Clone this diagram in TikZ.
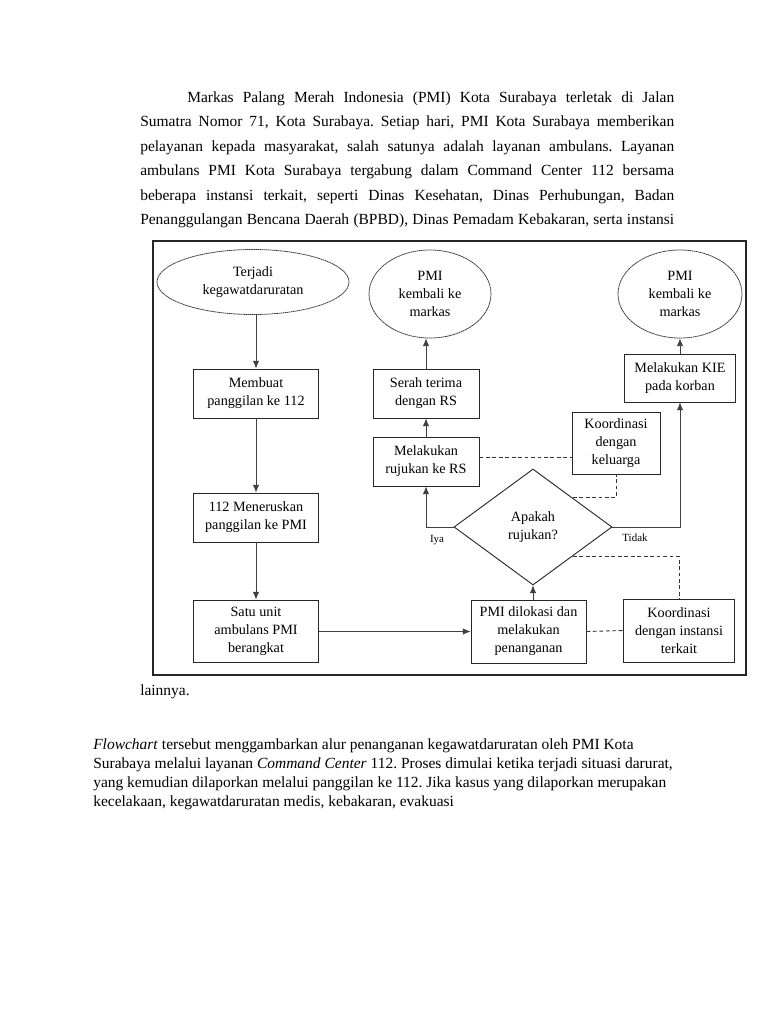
\documentclass[tikz,border=0pt]{standalone}
\usepackage{fontspec}
\setmainfont{Liberation Serif}
\usetikzlibrary{shapes.geometric,arrows.meta}
\def\U{0.775pt}
\frenchspacing
\tikzset{
  dg/.style={font=\fontsize{11}{14}\selectfont, align=center, inner sep=1pt},
  boxn/.style={dg, draw=black!85, line width=0.7pt, rectangle},
  elln/.style={dg, draw=black!80, line width=0.6pt, ellipse, dash pattern=on 1.2pt off 0.4pt},
  dia/.style={dg, draw=black!85, line width=0.7pt, diamond},
  arr/.style={draw=black!75, line width=0.6pt, -{Latex[length=6pt,width=5pt]}},
  dsh/.style={draw=black!80, line width=0.7pt, dash pattern=on 3pt off 2pt},
  body/.style={anchor=base west, inner sep=0pt, font=\fontsize{12}{14}\selectfont\frenchspacing},
  lbl/.style={font=\fontsize{8.5}{10}\selectfont, inner sep=0pt}
}
\begin{document}
\begin{tikzpicture}[x=0.775pt,y=-0.775pt]
\useasboundingbox[fill=white] (0,0) rectangle (768,1024);

% top paragraph
\node[body] (t1) at (187,102) {\hbox to 377.4pt{Markas Palang Merah Indonesia (PMI) Kota Surabaya terletak di Jalan}};
\node[body] (t2) at (140,126.5) {\hbox to 413.85pt{Sumatra Nomor 71, Kota Surabaya. Setiap hari, PMI Kota Surabaya memberikan}};
\node[body] (t3) at (140,151) {\hbox to 413.85pt{pelayanan kepada masyarakat, salah satunya adalah layanan ambulans. Layanan}};
\node[body] (t4) at (140,175.5) {\hbox to 413.85pt{ambulans PMI Kota Surabaya tergabung dalam Command Center 112 bersama}};
\node[body] (t5) at (140,200) {\hbox to 413.85pt{beberapa instansi terkait, seperti Dinas Kesehatan, Dinas Perhubungan, Badan}};
\node[body] (t6) at (140,224.5) {\hbox to 413.85pt{Penanggulangan Bencana Daerah (BPBD), Dinas Pemadam Kebakaran, serta instansi}};
\node[body] (t7) at (140,695) {lainnya.};

% bottom paragraph
\node[body] (b1t) at (93,749) {\textit{Flowchart} tersebut menggambarkan alur penanganan kegawatdaruratan oleh PMI Kota};
\node[body] (b2t) at (93,768.2) {Surabaya melalui layanan \textit{Command Center} 112. Proses dimulai ketika terjadi situasi darurat,};
\node[body] (b3t) at (93,787.4) {yang kemudian dilaporkan melalui panggilan ke 112. Jika kasus yang dilaporkan merupakan};
\node[body] (b4t) at (93,806.6) {kecelakaan, kegawatdaruratan medis, kebakaran, evakuasi};

% frame
\draw[draw=black!85, line width=0.9pt] (153,241) rectangle (746,675);

% nodes
\node[elln, minimum width=192*\U, minimum height=65*\U] (e1) at (253,282) {Terjadi\\kegawatdaruratan};
\node[elln, minimum width=122*\U, minimum height=88*\U] (e2) at (430,294) {PMI\\kembali ke\\markas};
\node[elln, minimum width=124*\U, minimum height=88*\U] (e3) at (680,294) {PMI\\kembali ke\\markas};

\node[boxn, minimum width=125*\U, minimum height=49*\U] (n1) at (256,393.5) {Membuat\\panggilan ke 112};
\node[boxn, minimum width=125*\U, minimum height=49*\U] (n2) at (256,517.5) {112 Meneruskan\\panggilan ke PMI};
\node[boxn, minimum width=125*\U, minimum height=62*\U] (n3) at (256,631) {Satu unit\\ambulans PMI\\berangkat};
\node[boxn, minimum width=106*\U, minimum height=49*\U] (n4) at (426,393.5) {Serah terima\\dengan RS};
\node[boxn, minimum width=106*\U, minimum height=49*\U] (n5) at (426,461.5) {Melakukan\\rujukan ke RS};
\node[boxn, minimum width=111*\U, minimum height=48*\U] (n6) at (680,378) {Melakukan KIE\\pada korban};
\node[boxn, minimum width=88*\U, minimum height=62*\U] (n7) at (616,443) {Koordinasi\\dengan\\keluarga};
\node[dia, minimum width=158*\U, minimum height=116*\U, aspect=1.36] (d) at (533,527) {};
\node[dg] (dt) at (533,527) {Apakah\\rujukan?};
\node[boxn, minimum width=115*\U, minimum height=63*\U] (n8) at (528.5,631.5) {PMI dilokasi dan\\melakukan\\penanganan};
\node[boxn, minimum width=111*\U, minimum height=63*\U] (n9) at (679,630.5) {Koordinasi\\dengan instansi\\terkait};

\node[lbl] (iya) at (437,540) {Iya};
\node[lbl] (tidak) at (635,538) {Tidak};

% arrows
\draw[arr] (n1.north |- e1.south) -- (n1.north);
\draw[arr] (n1.south) -- (n2.north);
\draw[arr] (n2.south) -- (n3.north);
\draw[arr] (n3.east |- n8.west) -- (n8.west);
\draw[arr] (n8.north -| d.south) -- (d.south);
\draw[arr] (d.west) -| (n5.south);
\draw[arr] (d.east) -| (n6.south);
\draw[arr] (n5.north) -- (n4.south);
\draw[arr] (n4.north) -- (n4.north |- e2.south);
\draw[arr] (n6.north) -- (n6.north |- e3.south);

% dashed
\draw[dsh] (n5.east |- 0,457) -- (n7.west |- 0,457);
\draw[dsh] (d.north east) -| (n7.south);
\draw[dsh] (d.south east) -| (n9.north);
\draw[dsh] (n8.east) -- (n9.west);
\end{tikzpicture}
\end{document}
